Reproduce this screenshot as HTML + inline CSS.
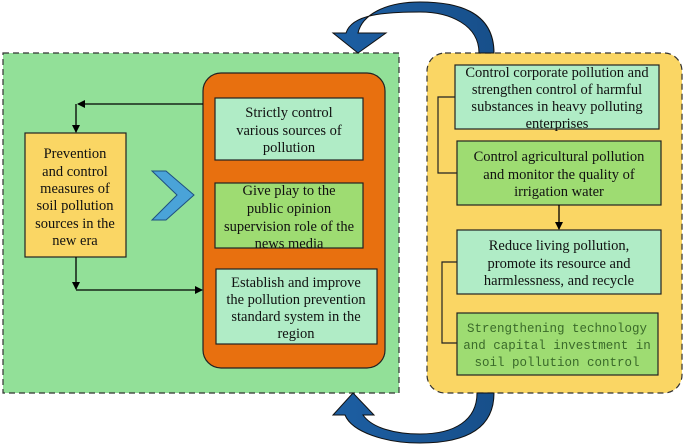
<!DOCTYPE html>
<html><head><meta charset="utf-8"><style>
body{margin:0;background:#fff;}
svg{display:block;font-family:"Liberation Serif",serif;}
</style></head><body>
<svg width="685" height="445" viewBox="0 0 685 445" xmlns="http://www.w3.org/2000/svg">
<defs>
<marker id="ah" markerWidth="8" markerHeight="8" refX="7" refY="4" orient="auto" markerUnits="userSpaceOnUse"><path d="M0,0 L8,4 L0,8 Z" fill="#000"/></marker>
<linearGradient id="bl" x1="0" y1="0" x2="1" y2="0"><stop offset="0" stop-color="#1d5fa3"/><stop offset="1" stop-color="#174f8a"/></linearGradient>
</defs>
<rect x="3" y="53" width="396" height="340" fill="#92e098" stroke="#333" stroke-width="1.2" stroke-dasharray="6,4"/>
<rect x="427" y="53" width="255" height="340" rx="18" fill="#fad664" stroke="#333" stroke-width="1.2" stroke-dasharray="6,4"/>
<path d="M494,53 C494,10 455,2 420,2 C385,2 362,15 358,33 L386,33 L358,53 L333,33 L346,33 C352,14 385,12 420,12 C450,12 479,25 479,53 Z" fill="url(#bl)" stroke="#111" stroke-width="1"/>
<path d="M494,393 C494,435 455,443 420,443 C385,443 352,432 345,415 L333,415 L353,393 L374,415 L363,415 C372,428 395,434 420,434 C455,434 477,420 477,393 Z" fill="url(#bl)" stroke="#111" stroke-width="1"/>
<rect x="203" y="73" width="182" height="295" rx="18" fill="#e8700f" stroke="#222" stroke-width="1.2"/>
<rect x="215" y="98" width="148" height="62" fill="#b0ecc6" stroke="#222" stroke-width="1.2"/>
<rect x="215" y="183" width="148" height="65" fill="#9edc72" stroke="#222" stroke-width="1.2"/>
<rect x="216" y="269" width="161" height="75" fill="#b0ecc6" stroke="#222" stroke-width="1.2"/>
<g font-size="14.5" text-anchor="middle" fill="#111">
<text x="289" y="117">Strictly control</text>
<text x="289" y="135">various sources of</text>
<text x="289" y="152">pollution</text>
<text x="289" y="195">Give play to the</text>
<text x="289" y="213">public opinion</text>
<text x="289" y="231">supervision role of the</text>
<text x="289" y="248">news media</text>
<text x="296" y="287">Establish and improve</text>
<text x="296" y="304">the pollution prevention</text>
<text x="296" y="321">standard system in the</text>
<text x="296" y="338">region</text>
</g>
<rect x="25" y="133" width="101" height="124" fill="#fad664" stroke="#222" stroke-width="1.2"/>
<g font-size="14.5" text-anchor="middle" fill="#111">
<text x="75" y="158">Prevention</text>
<text x="75" y="176">and control</text>
<text x="75" y="193">measures of</text>
<text x="75" y="210">soil pollution</text>
<text x="75" y="228">sources in the</text>
<text x="75" y="245">new era</text>
</g>
<path d="M152,171 L166,171 L194,195 L166,220 L152,220 L177,195 Z" fill="#4aa3d8" stroke="#1f4f80" stroke-width="1"/>
<path d="M203,104 L78,104" stroke="#000" stroke-width="1.3" fill="none" marker-end="url(#ah)"/>
<path d="M76,104 L76,132" stroke="#000" stroke-width="1.3" fill="none" marker-end="url(#ah)"/>
<path d="M76,257 L76,289" stroke="#000" stroke-width="1.3" fill="none" marker-end="url(#ah)"/>
<path d="M76,290 L202,290" stroke="#000" stroke-width="1.3" fill="none" marker-end="url(#ah)"/>
<path d="M455,97 L438,97 L438,173 L457,173" stroke="#222" stroke-width="1.2" fill="none"/>
<path d="M457,262 L442,262 L442,343 L457,343" stroke="#222" stroke-width="1.2" fill="none"/>
<rect x="455" y="65" width="204" height="64" fill="#b0ecc6" stroke="#222" stroke-width="1.2"/>
<rect x="457" y="141" width="204" height="64" fill="#9edc72" stroke="#222" stroke-width="1.2"/>
<rect x="457" y="230" width="204" height="64" fill="#b0ecc6" stroke="#222" stroke-width="1.2"/>
<rect x="457" y="313" width="201" height="62" fill="#9edc72" stroke="#222" stroke-width="1.2"/>
<path d="M559,205 L559,229" stroke="#000" stroke-width="1.3" fill="none" marker-end="url(#ah)"/>
<g font-size="14.5" text-anchor="middle" fill="#111">
<text x="557" y="77">Control corporate pollution and</text>
<text x="557" y="94">strengthen control of harmful</text>
<text x="557" y="111">substances in heavy polluting</text>
<text x="557" y="128">enterprises</text>
<text x="559" y="161">Control agricultural pollution</text>
<text x="559" y="179">and monitor the quality of</text>
<text x="559" y="196">irrigation water</text>
<text x="559" y="250">Reduce living pollution,</text>
<text x="559" y="268">promote its resource and</text>
<text x="559" y="285">harmlessness, and recycle</text>
</g>
<g font-size="12.5" text-anchor="middle" fill="#3a6a2a" font-family="Liberation Mono, monospace">
<text x="557" y="332">Strengthening technology</text>
<text x="557" y="349">and capital investment in</text>
<text x="557" y="366">soil pollution control</text>
</g>
</svg>
</body></html>
